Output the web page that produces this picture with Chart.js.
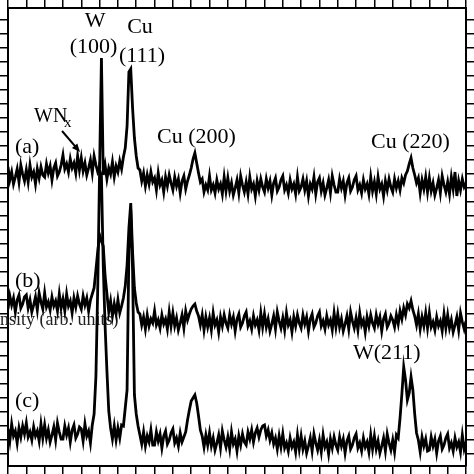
<!DOCTYPE html>
<html>
<head>
<meta charset="utf-8">
<script src="https://cdn.jsdelivr.net/npm/chart.js@4.4.0/dist/chart.umd.min.js"></script>
<style>
  html, body { margin: 0; padding: 0; background: #fff; }
  #wrap { width: 474px; height: 474px; overflow: hidden; }
</style>
</head>
<body>
<div id="wrap"><canvas id="xrd" width="474" height="474"></canvas></div>
<script>
// 2-theta grid (deg): 30 -> 80 in 0.2 deg steps
const thetaStart = 30;
const thetaStep = 0.2;

// intensity (arb. units), stacked offsets as in the figure, one row = 2 deg
const traceA = [
  299, 286, 294, 282, 289, 297, 284, 301, 292, 285,
  296, 284, 301, 289, 294, 282, 297, 288, 299, 291,
  289, 302, 293, 300, 286, 298, 303, 290, 294, 301,
  311, 297, 302, 294, 307, 298, 303, 293, 310, 296,
  308, 295, 303, 291, 298, 306, 293, 310, 301, 294,
  298, 408, 291, 301, 287, 298, 292, 304, 289, 300,
  294, 305, 297, 309, 318, 340, 394, 397, 358, 328,
  310, 298, 296, 285, 293, 280, 291, 282, 294, 284,
  288, 276, 293, 281, 286, 274, 289, 280, 291, 283,
  276, 289, 280, 287, 273, 285, 290, 277, 285, 291,
  298, 307, 313, 303, 293, 284, 287, 274, 281, 276,
  290, 276, 281, 273, 286, 277, 282, 272, 289, 275,
  288, 275, 283, 271, 278, 286, 273, 290, 281, 274,
  284, 272, 289, 277, 282, 270, 285, 276, 287, 279,
  274, 287, 278, 285, 271, 283, 288, 275, 279, 286,
  290, 276, 281, 273, 286, 277, 282, 272, 289, 275,
  279, 287, 276, 285, 270, 282, 277, 289, 272, 284,
  288, 275, 283, 271, 278, 286, 273, 290, 281, 274,
  274, 287, 278, 285, 271, 283, 288, 275, 279, 286,
  290, 276, 281, 273, 286, 277, 282, 272, 289, 275,
  284, 272, 289, 277, 282, 270, 285, 276, 287, 279,
  274, 287, 278, 285, 276, 288, 283, 291, 295, 302,
  308, 298, 291, 283, 288, 273, 286, 277, 289, 274,
  288, 275, 283, 271, 278, 286, 273, 290, 281, 274,
  284, 272, 289, 277, 294, 270, 285, 276, 287, 279,
  283
];

const traceB = [
  157, 170, 161, 168, 154, 166, 171, 158, 162, 169,
  171, 158, 166, 154, 161, 169, 156, 173, 164, 157,
  173, 159, 164, 156, 169, 160, 165, 155, 172, 158,
  167, 155, 172, 160, 165, 153, 168, 159, 170, 162,
  157, 170, 161, 168, 155, 166, 172, 178, 196, 215,
  231, 225, 220, 190, 172, 154, 165, 150, 162, 152,
  166, 153, 160, 168, 180, 201, 238, 263, 214, 178,
  163, 154, 152, 141, 149, 137, 151, 140, 147, 143,
  155, 141, 146, 138, 151, 142, 147, 137, 154, 140,
  153, 140, 148, 136, 143, 151, 138, 155, 146, 152,
  157, 160, 162, 155, 150, 141, 151, 136, 149, 139,
  148, 136, 153, 141, 146, 134, 149, 140, 151, 143,
  138, 151, 142, 149, 135, 147, 152, 139, 143, 150,
  154, 140, 145, 137, 150, 141, 146, 136, 153, 139,
  152, 139, 147, 135, 142, 150, 137, 154, 145, 138,
  148, 136, 153, 141, 146, 134, 149, 140, 151, 143,
  138, 151, 142, 149, 135, 147, 152, 139, 143, 150,
  154, 140, 145, 137, 150, 141, 146, 136, 153, 139,
  152, 139, 147, 135, 142, 150, 137, 154, 145, 138,
  148, 136, 153, 141, 146, 134, 149, 140, 151, 143,
  138, 151, 142, 149, 135, 147, 152, 139, 143, 150,
  146, 139, 151, 142, 155, 147, 158, 151, 162, 158,
  165, 156, 150, 141, 152, 137, 149, 140, 153, 138,
  153, 139, 144, 136, 149, 140, 145, 135, 152, 138,
  151, 138, 146, 134, 141, 149, 136, 153, 144, 137,
  145
];

const traceC = [
  37, 25, 42, 30, 35, 23, 38, 29, 40, 32,
  43, 29, 34, 26, 39, 30, 35, 25, 42, 28,
  41, 28, 36, 24, 31, 39, 26, 43, 34, 27,
  27, 40, 31, 38, 24, 36, 41, 28, 32, 39,
  37, 25, 42, 30, 35, 23, 41, 52, 90, 180,
  296, 290, 200, 140, 95, 55, 38, 27, 40, 26,
  38, 28, 41, 40, 58, 76, 216, 256, 196, 71,
  52, 40, 31, 22, 34, 20, 30, 24, 36, 21,
  21, 34, 25, 32, 18, 30, 35, 22, 26, 33,
  37, 23, 28, 20, 33, 24, 29, 34, 46, 56,
  65, 68, 71, 63, 50, 36, 30, 19, 31, 21,
  33, 20, 28, 16, 23, 31, 18, 35, 26, 19,
  29, 17, 34, 22, 27, 15, 30, 21, 32, 24,
  21, 34, 27, 36, 24, 33, 38, 29, 36, 40,
  41, 30, 36, 26, 33, 22, 28, 17, 30, 19,
  32, 18, 23, 15, 28, 19, 24, 14, 31, 17,
  30, 17, 25, 13, 20, 28, 15, 32, 23, 16,
  26, 14, 31, 19, 24, 12, 27, 18, 29, 21,
  16, 29, 20, 27, 13, 25, 30, 17, 21, 28,
  32, 18, 23, 15, 28, 19, 24, 14, 31, 17,
  30, 17, 25, 13, 20, 28, 15, 32, 23, 16,
  26, 14, 31, 28, 48, 72, 99, 86, 66, 73,
  89, 76, 52, 33, 26, 14, 29, 20, 27, 15,
  16, 29, 20, 27, 13, 25, 30, 17, 21, 28,
  32, 18, 23, 15, 28, 19, 24, 14, 31, 17,
  24
];

// axis ranges and tick marks
const thetaMin = 30, thetaMax = 80, thetaTickStep = 2;
const intensityMin = 0, intensityMax = 458;
const intensityTicks = [];
for (let v = 12; v < intensityMax; v += 14) intensityTicks.push(v);

// peak labels: [text, 2theta, intensity, align, size]
const peakLabels = [
  ['W', 39.5, 439, 'center', 22],
  ['(100)', 39.33, 413, 'center', 22],
  ['Cu', 44.41, 433, 'center', 22],
  ['(111)', 44.63, 404, 'center', 22],
  ['WN', 32.84, 344, 'left', 20],
  ['x', 36.1, 339, 'left', 15],
  ['(a)', 30.76, 313, 'left', 22],
  ['Cu (200)', 46.27, 323, 'left', 22],
  ['Cu (220)', 69.63, 318, 'left', 22],
  ['(b)', 30.76, 179, 'left', 22],
  ['(c)', 30.76, 59, 'left', 22],
  ['W(211)', 67.66, 107, 'left', 22]
];
// WNx arrow: tail and head as [2theta, intensity]
const arrowFrom = [35.9, 335];
const arrowTo = [37.86, 314];

function toPoints(values) {
  return values.map((v, i) => ({ x: thetaStart + i * thetaStep, y: v }));
}

const serif = '"Liberation Serif", "Times New Roman", serif';

const annotate = {
  id: 'annotate',
  beforeDatasetsDraw(chart) {
    // axis title sits mostly off the left edge, under trace (b)
    const { ctx, scales: { x, y } } = chart;
    ctx.save();
    ctx.fillStyle = '#222';
    ctx.font = '18px ' + serif;
    ctx.textAlign = 'left';
    ctx.fillText('Intensity (arb. units)', x.getPixelForValue(26.07), y.getPixelForValue(141));
    ctx.restore();
  },
  afterDatasetsDraw(chart) {
    const { ctx, scales: { x, y } } = chart;
    ctx.save();
    ctx.fillStyle = '#000';
    ctx.textBaseline = 'alphabetic';
    peakLabels.forEach(([text, tx, ty, align, size]) => {
      ctx.font = size + 'px ' + serif;
      ctx.textAlign = align;
      ctx.fillText(text, x.getPixelForValue(tx), y.getPixelForValue(ty));
    });
    // arrow towards the WNx hump
    const x0 = x.getPixelForValue(arrowFrom[0]), y0 = y.getPixelForValue(arrowFrom[1]);
    const x1 = x.getPixelForValue(arrowTo[0]), y1 = y.getPixelForValue(arrowTo[1]);
    const ang = Math.atan2(y1 - y0, x1 - x0);
    ctx.strokeStyle = '#000';
    ctx.lineWidth = 2;
    ctx.beginPath();
    ctx.moveTo(x0, y0);
    ctx.lineTo(x1 - 6 * Math.cos(ang), y1 - 6 * Math.sin(ang));
    ctx.stroke();
    ctx.beginPath();
    ctx.moveTo(x1, y1);
    ctx.lineTo(x1 - 9 * Math.cos(ang - 0.4), y1 - 9 * Math.sin(ang - 0.4));
    ctx.lineTo(x1 - 9 * Math.cos(ang + 0.4), y1 - 9 * Math.sin(ang + 0.4));
    ctx.closePath();
    ctx.fill();
    ctx.restore();
  }
};

const tickGrid = { drawOnChartArea: false, drawTicks: true, tickLength: 8, color: '#000', lineWidth: 1.5 };
const frame = { display: true, color: '#000', width: 2 };

function thetaAxis(position) {
  return {
    type: 'linear', axis: 'x', position: position,
    min: thetaMin, max: thetaMax,
    ticks: { display: false, stepSize: thetaTickStep },
    grid: tickGrid, border: frame,
    afterFit: s => { s.height = 8; }
  };
}
function intensityAxis(position) {
  return {
    type: 'linear', axis: 'y', position: position,
    min: intensityMin, max: intensityMax,
    ticks: { display: false },
    afterBuildTicks: s => { s.ticks = intensityTicks.map(v => ({ value: v })); },
    grid: tickGrid, border: frame,
    afterFit: s => { s.width = 8; }
  };
}

const line = { borderColor: '#000', borderWidth: 2.8, pointRadius: 0, tension: 0, fill: false };

new Chart(document.getElementById('xrd'), {
  type: 'line',
  data: {
    datasets: [
      { label: '(a)', data: toPoints(traceA), ...line },
      { label: '(b)', data: toPoints(traceB), ...line },
      { label: '(c)', data: toPoints(traceC), ...line }
    ]
  },
  options: {
    responsive: false,
    animation: false,
    layout: { padding: 0 },
    plugins: { legend: { display: false }, tooltip: { enabled: false } },
    scales: {
      x: thetaAxis('bottom'),
      xTop: thetaAxis('top'),
      y: intensityAxis('left'),
      yRight: intensityAxis('right')
    }
  },
  plugins: [annotate]
});
</script>
</body>
</html>
